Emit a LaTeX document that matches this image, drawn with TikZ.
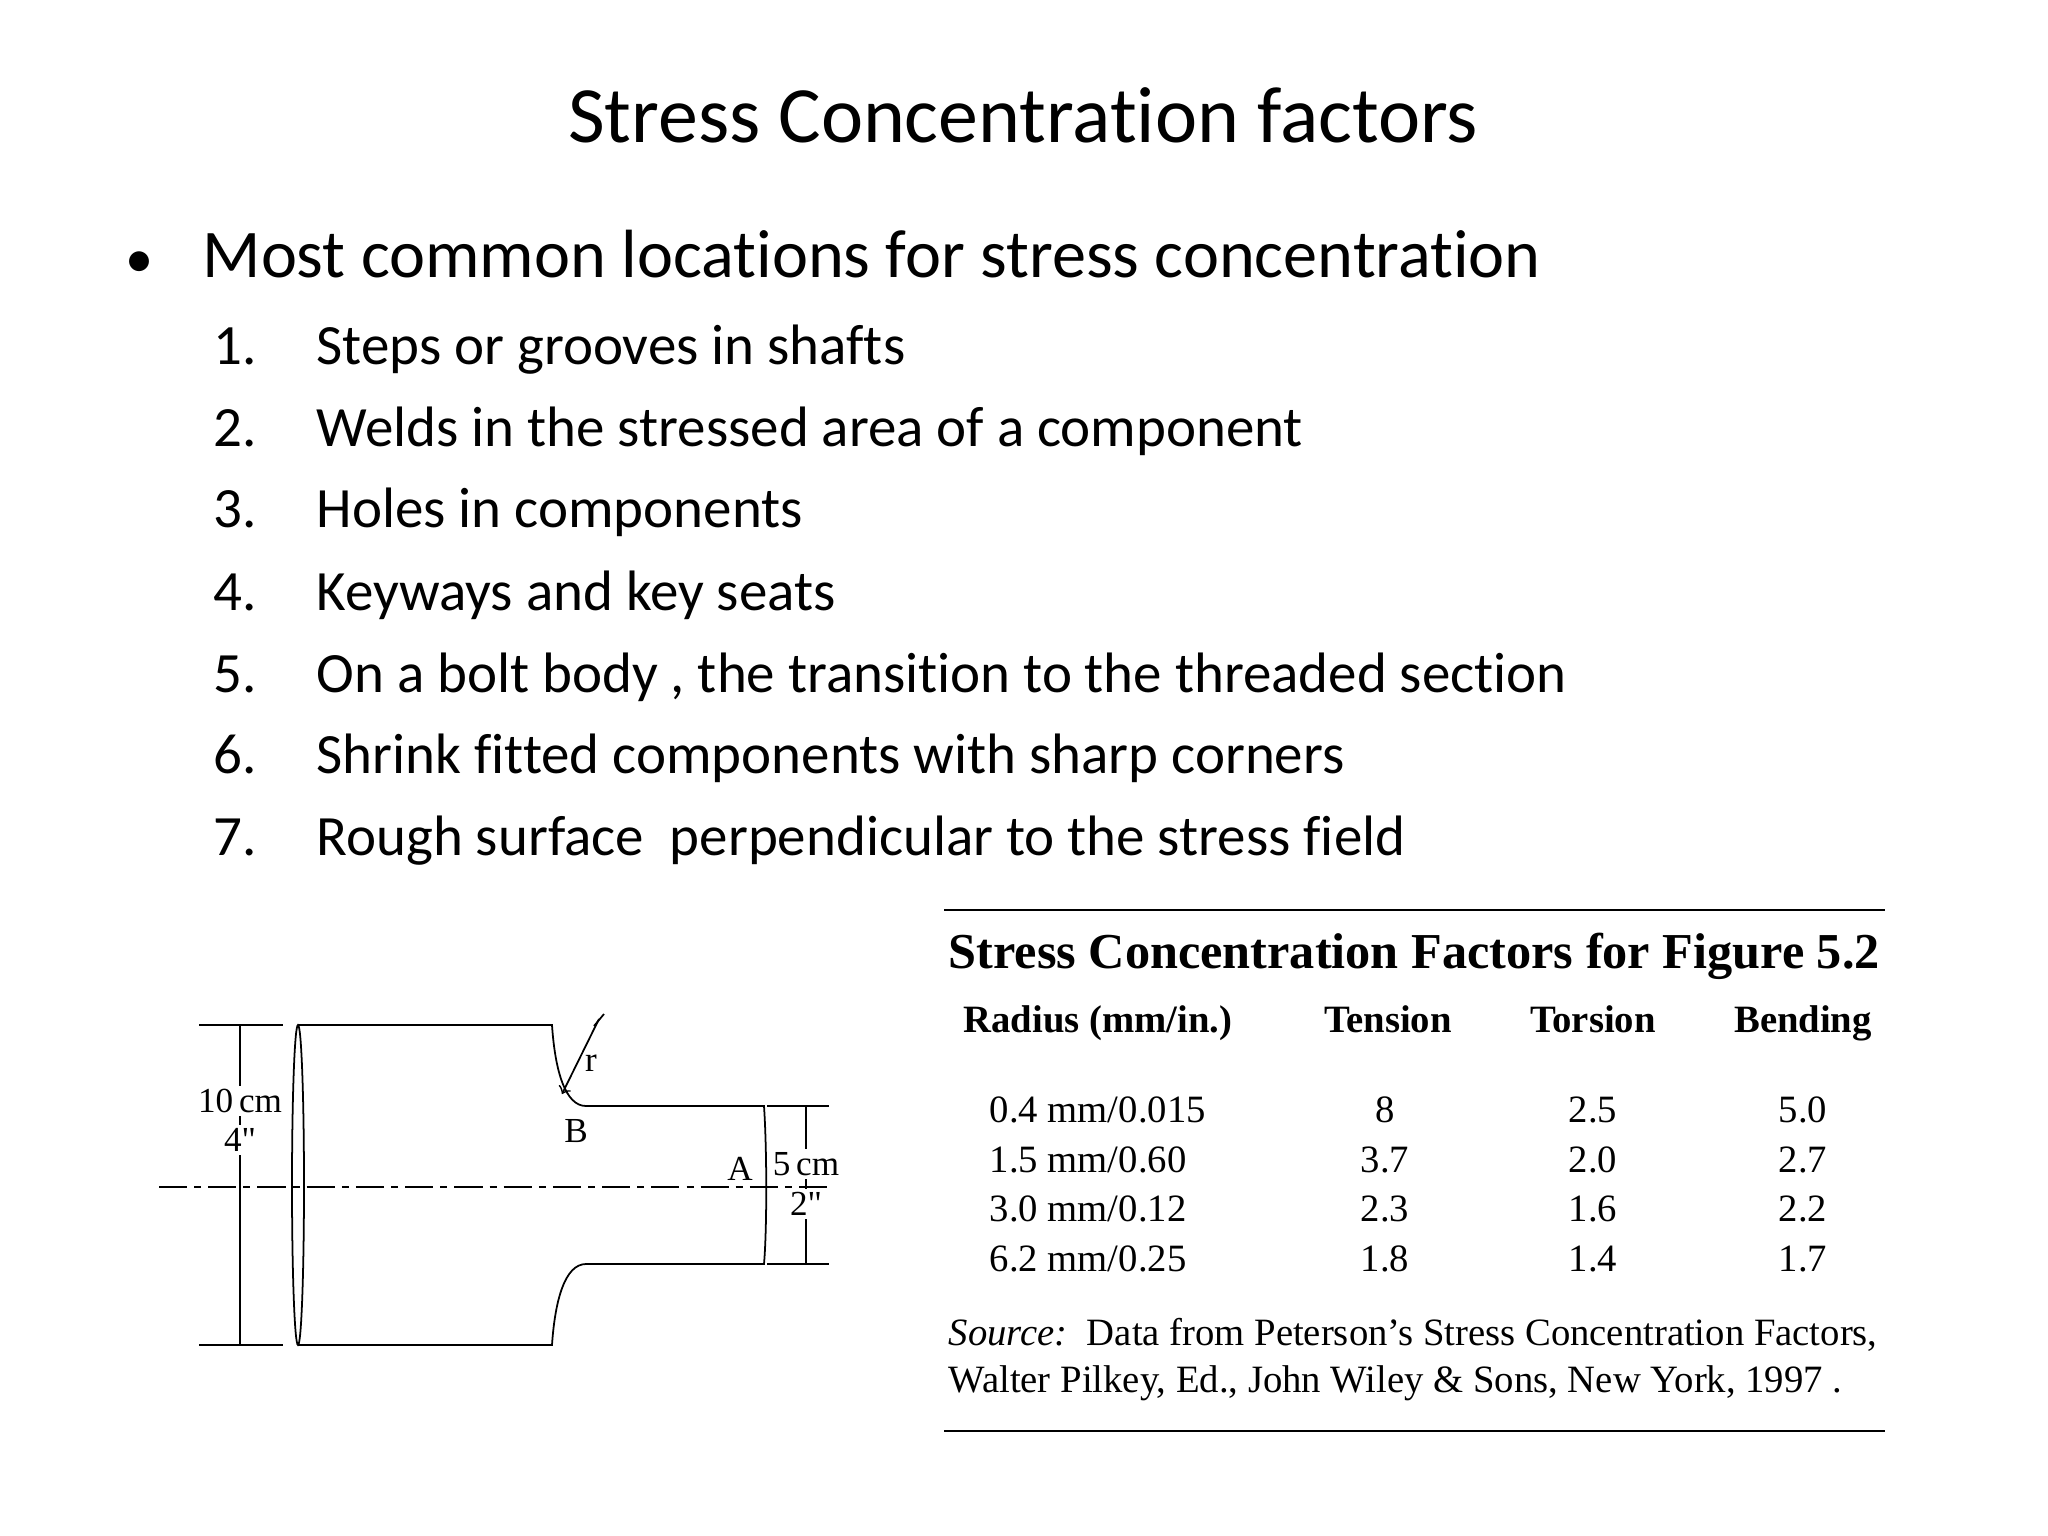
\documentclass[tikz,border=0pt]{standalone}
\usepackage{fontspec}
\setmainfont{Carlito}[Ligatures=NoCommon]
\newfontfamily\tim{Liberation Serif}
\begin{document}
\begin{tikzpicture}[x=0.01cm,y=-0.01cm,
  ln/.style={line width=0.5pt},
  lbl/.style={font=\tim\fontsize{10}{12}\selectfont,inner sep=1pt,fill=white},
  tb/.style={font=\tim\fontsize{11}{13}\selectfont,inner sep=0pt},
  th/.style={font=\tim\bfseries\fontsize{11}{13}\selectfont,inner sep=0pt,anchor=base},
  item/.style={font=\fontsize{16.2}{20}\selectfont,anchor=base west,inner sep=0pt}]
\useasboundingbox (0,0) rectangle (2048,1536);
\node[font=\fontsize{22.7}{27}\selectfont] (title) at (1023,115) {Stress Concentration factors};
\node[item,font=\fontsize{16}{24}\selectfont] (bul) at (125,277) {•};
\node[item,font=\fontsize{19.4}{24}\selectfont] (main) at (202,277) {Most common locations for stress concentration};
\foreach \n/\y/\t in {1/346/Steps or grooves in shafts,2/428/Welds in the stressed area of a component,3/509/Holes in components,4/592/Keyways and key seats,5/674/{On a bolt body , the transition to the threaded section},6/755/Shrink fitted components with sharp corners,7/837/Rough surface\ \ perpendicular to the stress field}{
  \node[item] (n\n) at (213,\y+18) {\n.};
  \node[item] (t\n) at (316,\y+18) {\t};
}
% shaft
\draw[ln] (199,1025) -- (283,1025);
\draw[ln] (199,1345) -- (283,1345);
\draw[ln] (240,1025) -- (240,1345);
\draw[ln] (298,1185) ellipse (6 and 160);
\draw[ln] (298,1025) -- (552,1025) .. controls (555,1070) and (565,1106) .. (586,1106) -- (764,1106)
  .. controls (767,1150) and (767,1230) .. (764,1264) -- (586,1264)
  .. controls (565,1264) and (555,1300) .. (552,1345) -- (298,1345);
\draw[ln,dashed,dash pattern=on 8pt off 2pt on 2pt off 2pt] (159,1187) -- (829,1187);
\draw[ln] (767,1106) -- (829,1106);
\draw[ln] (767,1264) -- (829,1264);
\draw[ln] (806,1106) -- (806,1264);
\coordinate (rtop) at (599,1019);
\coordinate (rtip) at (562,1094);
\draw[ln,->] (rtop) -- (rtip);
\draw[ln] (594,1026) -- (604,1014);
\node[lbl,fill=none] (r) at (591,1063) {r};
\node[lbl,fill=none] (B) at (576,1131) {B};
\node[lbl,fill=none] (A) at (740,1169) {A};
\node[lbl] (ten) at (240,1101) {10\,cm};
\node[lbl] (four) at (240,1140) {4"};
\node[lbl] (five) at (806,1164) {5\,cm};
\node[lbl] (two) at (806,1204) {2"};
% table
\draw[line width=0.8pt] (944,910) -- (1885,910);
\draw[line width=0.8pt] (944,1431) -- (1885,1431);
\node[th,anchor=west,font=\tim\bfseries\fontsize{14.3}{16}\selectfont] (tt) at (948,956) {Stress Concentration Factors for Figure 5.2};
\node[th,anchor=base west] (h1) at (963,1032) {Radius (mm/in.)};
\node[th] (h2) at (1388,1032) {Tension};
\node[th] (h3) at (1593,1032) {Torsion};
\node[th] (h4) at (1803,1032) {Bending};
\foreach \y/\a/\b/\c/\d in {1110/0.4 mm\slash 0.015/8/2.5/5.0,1160/1.5 mm\slash 0.60/3.7/2.0/2.7,1209/3.0 mm\slash 0.12/2.3/1.6/2.2,1259/6.2 mm\slash 0.25/1.8/1.4/1.7}{
  \node[tb,anchor=west] at (989,\y) {\a};
  \node[tb] at (1385,\y) {\b};
  \node[tb] at (1593,\y) {\c};
  \node[tb] at (1803,\y) {\d};
}
\node[tb,anchor=west] (s1) at (948,1335) {\textit{Source:}\ \ Data from Peterson’s Stress Concentration Factors,};
\node[tb,anchor=west] (s2) at (948,1383) {Walter Pilkey, Ed., John Wiley \& Sons, New York, 1997 .};
\end{tikzpicture}
\end{document}
